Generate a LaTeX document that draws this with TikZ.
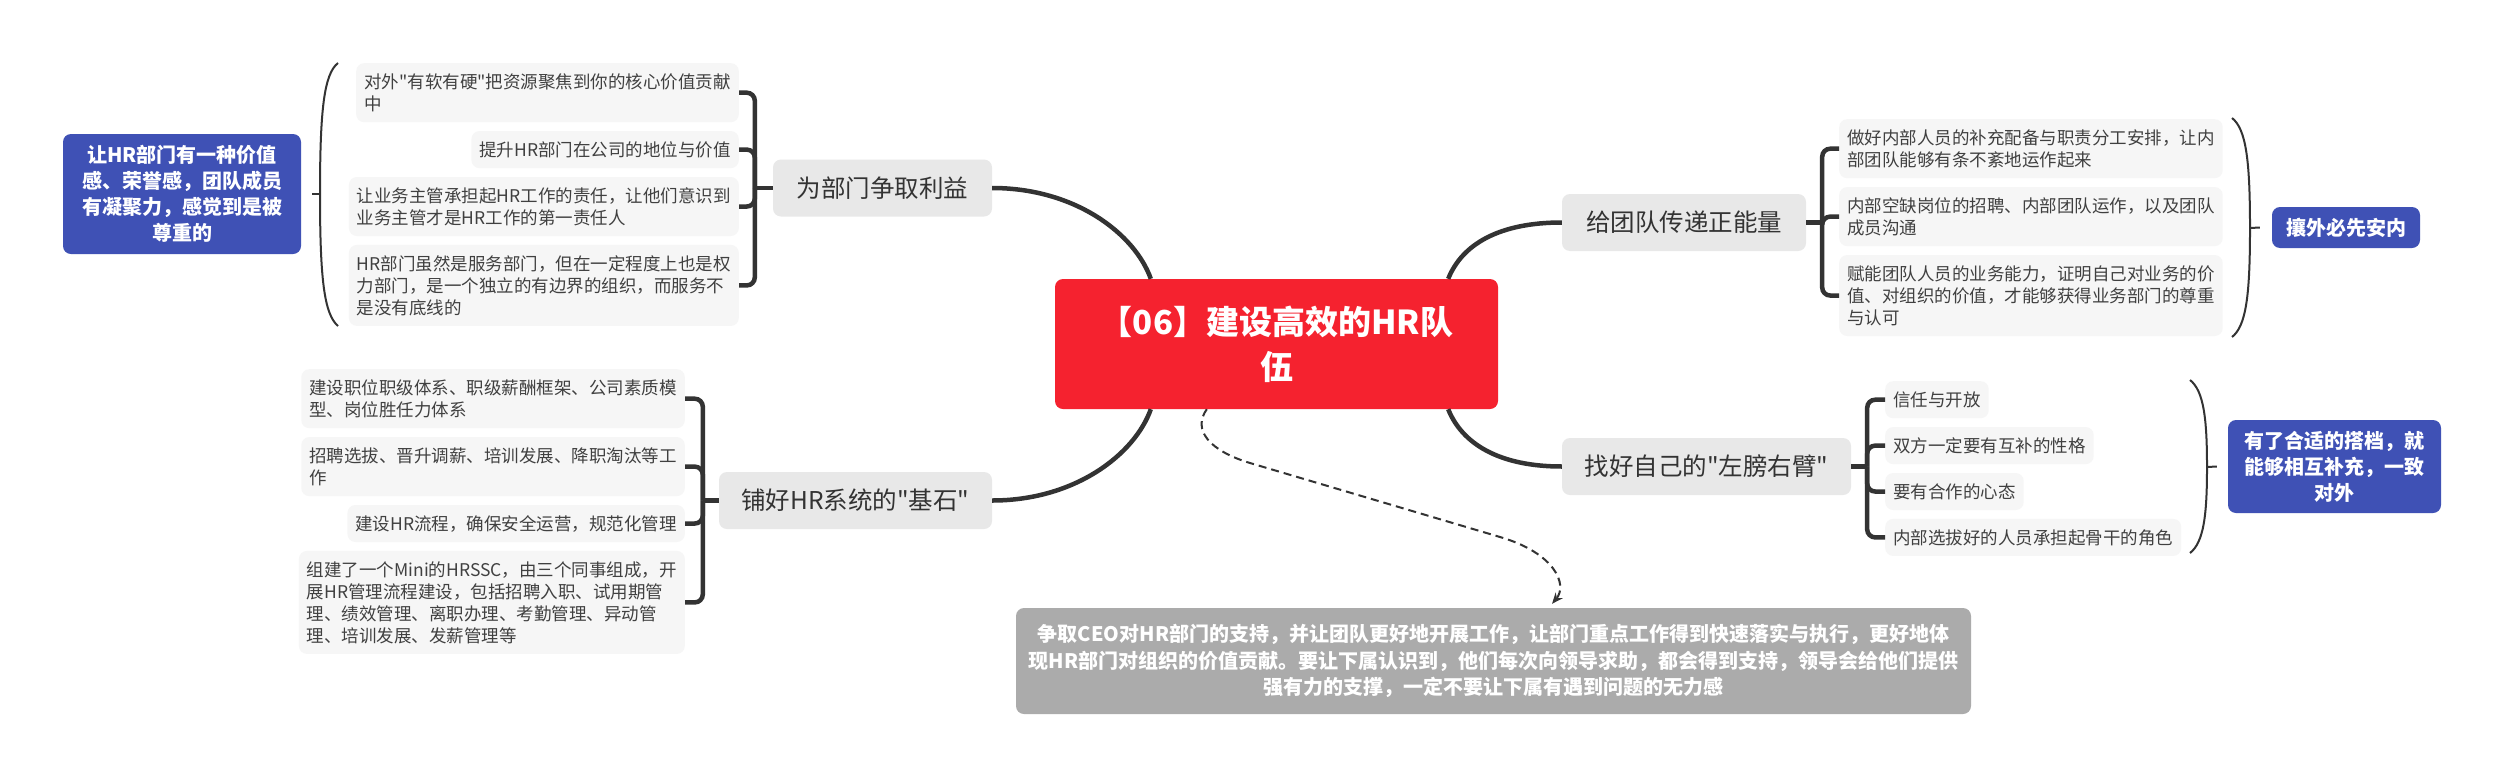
\documentclass[tikz,border=0pt]{standalone}
\usepackage{fontspec}
\setmainfont{Noto Sans CJK SC}[Ligatures=TeXOff]
\usetikzlibrary{arrows.meta,positioning}

\definecolor{hubred}{HTML}{F5222F}
\definecolor{sumblue}{HTML}{3F51B5}
\definecolor{topicgray}{HTML}{E8E8E8}
\definecolor{leafgray}{HTML}{F6F6F6}
\definecolor{notegray}{HTML}{ABABAB}
\definecolor{linedark}{HTML}{333333}
\definecolor{textdark}{HTML}{404040}

\begin{document}
\begin{tikzpicture}[
    x=1pt, y=-1pt,
    every node/.style={inner sep=0pt},
    hub/.style={
      rectangle, rounded corners=8pt, fill=hubred, text=white,
      minimum width=443pt, minimum height=130pt, align=center,
      font=\fontsize{33}{45}\selectfont\bfseries
    },
    topic/.style={
      rectangle, rounded corners=8pt, fill=topicgray, text=linedark,
      minimum height=57pt, font=\fontsize{24.5}{30}\selectfont
    },
    leaf/.style={
      rectangle, rounded corners=8pt, fill=leafgray, text=textdark,
      inner xsep=8pt, align=left, font=\fontsize{17.5}{22}\selectfont
    },
    nlines/.style={minimum height=#1*22pt+15pt},
    summary/.style={
      rectangle, rounded corners=8pt, fill=sumblue, text=white,
      align=center, font=\fontsize{20}{26}\selectfont\bfseries
    },
    notebox/.style={
      rectangle, rounded corners=8pt, fill=notegray, text=white,
      minimum width=955pt, minimum height=106pt, align=center,
      font=\fontsize{20}{26.5}\selectfont\bfseries
    },
    trunk/.style={line width=4.5pt, linedark},
    bracket/.style={line width=4.5pt, linedark, rounded corners=8pt},
    brace/.style={line width=2pt, linedark},
    dasharr/.style={-{Stealth[length=11pt, width=9pt]}, line width=2pt,
      dash pattern=on 8pt off 5pt, linedark}
  ]
    \fill[white] (0,0) rectangle (2503,777);
    \useasboundingbox (0,0) rectangle (2503,777);

    % centre and main topics
    \node[hub] (hub) at (1276.5,344) {【06】建设高效的HR队\\伍};
    \node[topic, minimum width=219pt] (m1) at (882.5,188) {为部门争取利益};
    \node[topic, minimum width=273pt] (m2) at (855.5,500.5) {铺好HR系统的"基石"};
    \node[topic, minimum width=244pt] (m3) at (1684,222.5) {给团队传递正能量};
    \node[topic, minimum width=289pt] (m4) at (1706.5,466.5) {找好自己的"左膀右臂"};

    % upper left leaves
    \node[leaf, nlines=2, anchor=north east] (la1) at (739,63)
      {对外"有软有硬"把资源聚焦到你的核心价值贡献\\中};
    \node[leaf, nlines=1, below=8.5pt of la1.south east, anchor=north east] (la2)
      {提升HR部门在公司的地位与价值};
    \node[leaf, nlines=2, below=8.5pt of la2.south east, anchor=north east] (la3)
      {让业务主管承担起HR工作的责任，让他们意识到\\业务主管才是HR工作的第一责任人};
    \node[leaf, nlines=3, below=8.5pt of la3.south east, anchor=north east] (la4)
      {HR部门虽然是服务部门，但在一定程度上也是权\\力部门，是一个独立的有边界的组织，而服务不\\是没有底线的};

    % lower left leaves
    \node[leaf, nlines=2, anchor=north east] (lb1) at (685,369)
      {建设职位职级体系、职级薪酬框架、公司素质模\\型、岗位胜任力体系};
    \node[leaf, nlines=2, below=8.5pt of lb1.south east, anchor=north east] (lb2)
      {招聘选拔、晋升调薪、培训发展、降职淘汰等工\\作};
    \node[leaf, nlines=1, below=8.5pt of lb2.south east, anchor=north east] (lb3)
      {建设HR流程，确保安全运营，规范化管理};
    \node[leaf, nlines=4, below=8.5pt of lb3.south east, anchor=north east] (lb4)
      {组建了一个Mini的HRSSC，由三个同事组成，开\\展HR管理流程建设，包括招聘入职、试用期管\\理、绩效管理、离职办理、考勤管理、异动管\\理、培训发展、发薪管理等};

    % upper right leaves
    \node[leaf, nlines=2, anchor=north west] (ra1) at (1839,119)
      {做好内部人员的补充配备与职责分工安排，让内\\部团队能够有条不紊地运作起来};
    \node[leaf, nlines=2, below=8.5pt of ra1.south west, anchor=north west] (ra2)
      {内部空缺岗位的招聘、内部团队运作，以及团队\\成员沟通};
    \node[leaf, nlines=3, below=8.5pt of ra2.south west, anchor=north west] (ra3)
      {赋能团队人员的业务能力，证明自己对业务的价\\值、对组织的价值，才能够获得业务部门的尊重\\与认可};

    % lower right leaves
    \node[leaf, nlines=1, anchor=north west] (rb1) at (1885,381) {信任与开放};
    \node[leaf, nlines=1, below=8.5pt of rb1.south west, anchor=north west] (rb2)
      {双方一定要有互补的性格};
    \node[leaf, nlines=1, below=8.5pt of rb2.south west, anchor=north west] (rb3)
      {要有合作的心态};
    \node[leaf, nlines=1, below=8.5pt of rb3.south west, anchor=north west] (rb4)
      {内部选拔好的人员承担起骨干的角色};

    % summaries
    \node[summary, minimum width=238pt, minimum height=120pt] (sum1) at (182,194)
      {让HR部门有一种价值\\感、荣誉感，团队成员\\有凝聚力，感觉到是被\\尊重的};
    \node[summary, minimum width=148pt, minimum height=41pt] (sum2) at (2346,227.5)
      {攘外必先安内};
    \node[summary, minimum width=213pt, minimum height=93pt] (sum3) at (2334.5,466.5)
      {有了合适的搭档，就\\能够相互补充，一致\\对外};

    \node[notebox] (note) at (1493.5,661)
      {争取CEO对HR部门的支持，并让团队更好地开展工作，让部门重点工作得到快速落实与执行，更好地体\\现HR部门对组织的价值贡献。要让下属认识到，他们每次向领导求助，都会得到支持，领导会给他们提供\\强有力的支撑，一定不要让下属有遇到问题的无力感};

    % centre to topics
    \draw[trunk] (m1.east) .. controls +(83,0) and +(-16,-45) .. ([xshift=96pt]hub.north west);
    \draw[trunk] (m2.east) .. controls +(83,0) and +(-16,45) .. ([xshift=96pt]hub.south west);
    \draw[trunk] (m3.west) .. controls +(-62,0) and +(14,-35) .. ([xshift=-50pt]hub.north east);
    \draw[trunk] (m4.west) .. controls +(-62,0) and +(14,35) .. ([xshift=-50pt]hub.south east);

    % topic brackets
    \draw[trunk] (m1.west) -- ++(-18pt,0) coordinate (j1);
    \draw[bracket] (j1) |- (la1.east);
    \draw[bracket] (j1) |- (la2.east);
    \draw[bracket] (j1) |- (la3.east);
    \draw[bracket] (j1) |- (la4.east);

    \draw[trunk] (m2.west) -- ++(-16pt,0) coordinate (j2);
    \draw[bracket] (j2) |- (lb1.east);
    \draw[bracket] (j2) |- (lb2.east);
    \draw[bracket] (j2) |- (lb3.east);
    \draw[bracket] (j2) |- (lb4.east);

    \draw[trunk] (m3.east) -- ++(16pt,0) coordinate (j3);
    \draw[bracket] (j3) |- (ra1.west);
    \draw[bracket] (j3) |- (ra2.west);
    \draw[bracket] (j3) |- (ra3.west);

    \draw[trunk] (m4.east) -- ++(16pt,0) coordinate (j4);
    \draw[bracket] (j4) |- (rb1.west);
    \draw[bracket] (j4) |- (rb2.west);
    \draw[bracket] (j4) |- (rb3.west);
    \draw[bracket] (j4) |- (rb4.west);

    % summary braces
    \draw[brace] (338,63) .. controls (324,74) and (320,110) .. (320,194)
      .. controls (320,278) and (324,314) .. (338,326);
    \draw[brace] (320,194) -- ([xshift=11pt]sum1.east);
    \draw[brace] (2232,118) .. controls (2246,129) and (2250,160) .. (2250,228)
      .. controls (2250,296) and (2246,326) .. (2232,337);
    \draw[brace] (2250,228) -- ([xshift=-12pt]sum2.west);
    \draw[brace] (2190,380) .. controls (2204,391) and (2207,420) .. (2207,467)
      .. controls (2207,514) and (2204,542) .. (2190,553);
    \draw[brace] (2207,467) -- ([xshift=-11pt]sum3.west);

    % relation to the note
    \draw[dasharr] ([xshift=152pt]hub.south west) .. controls +(-15,21) and +(-40,-12) .. (1250,463)
      -- (1500,537) .. controls +(55,16) and +(16,-19) .. ([xshift=58.5pt, yshift=4pt]note.north);
\end{tikzpicture}
\end{document}
